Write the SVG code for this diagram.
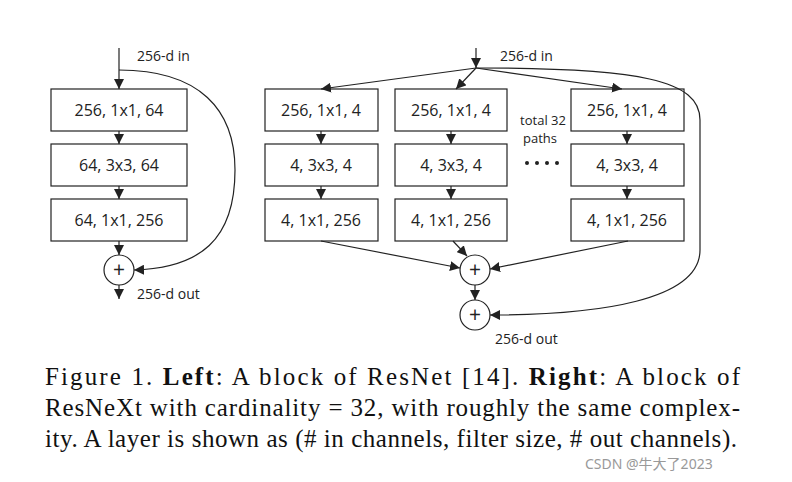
<svg xmlns="http://www.w3.org/2000/svg" width="792" height="482" viewBox="0 0 792 482">
<style>
.b{fill:#fff;stroke:#222;stroke-width:1.2}
.t{font-family:"Open Sans","DejaVu Sans",sans-serif;font-size:16px;fill:#222;text-anchor:middle}
.p{font-family:"Open Sans","DejaVu Sans",sans-serif;font-size:21px;fill:#222;text-anchor:middle}
.s{font-family:"Open Sans","DejaVu Sans",sans-serif;font-size:14px;fill:#222}
.c{font-family:"Liberation Serif",serif;font-size:25px;fill:#111}
.l{fill:none;stroke:#222;stroke-width:1.2}
</style>
<defs><marker id="a" viewBox="0 0 10 10" refX="10" refY="5" markerWidth="10" markerHeight="10" markerUnits="userSpaceOnUse" orient="auto"><path d="M0,0L10,5L0,10z" fill="#222"/></marker></defs>
<rect width="792" height="482" fill="#fff"/>
<g id="left">
<rect class="b" x="51" y="89" width="136" height="42"/><text class="t" x="119" y="116">256, 1x1, 64</text>
<rect class="b" x="51" y="144" width="136" height="42"/><text class="t" x="119" y="171">64, 3x3, 64</text>
<rect class="b" x="51" y="199" width="136" height="42"/><text class="t" x="119" y="226">64, 1x1, 256</text>
<circle class="b" cx="119" cy="270" r="15"/><text class="p" x="119" y="277">+</text>
<text class="s" x="137" y="61">256-d in</text><text class="s" x="137" y="299">256-d out</text>
</g>
<g id="right">
<rect class="b" x="265" y="89" width="113" height="42"/><text class="t" x="321" y="116">256, 1x1, 4</text>
<rect class="b" x="265" y="144" width="113" height="42"/><text class="t" x="321" y="171">4, 3x3, 4</text>
<rect class="b" x="265" y="199" width="113" height="42"/><text class="t" x="321" y="226">4, 1x1, 256</text>
<rect class="b" x="395" y="89" width="112" height="42"/><text class="t" x="451" y="116">256, 1x1, 4</text>
<rect class="b" x="395" y="144" width="112" height="42"/><text class="t" x="451" y="171">4, 3x3, 4</text>
<rect class="b" x="395" y="199" width="112" height="42"/><text class="t" x="451" y="226">4, 1x1, 256</text>
<rect class="b" x="571" y="89" width="113" height="42"/><text class="t" x="627" y="116">256, 1x1, 4</text>
<rect class="b" x="571" y="144" width="113" height="42"/><text class="t" x="627" y="171">4, 3x3, 4</text>
<rect class="b" x="571" y="199" width="113" height="42"/><text class="t" x="627" y="226">4, 1x1, 256</text>
<circle class="b" cx="475" cy="270" r="15"/><text class="p" x="475" y="277">+</text>
<circle class="b" cx="475" cy="315" r="15"/><text class="p" x="475" y="322">+</text>
<text class="s" x="500" y="61">256-d in</text><text class="s" x="495" y="344">256-d out</text>
<text class="s" x="543" y="125" text-anchor="middle" style="font-size:13px">total 32</text>
<text class="s" x="540" y="143" text-anchor="middle" style="font-size:13px">paths</text>
<g fill="#222"><circle cx="527" cy="163" r="2"/><circle cx="537" cy="163" r="2"/><circle cx="547" cy="163" r="2"/><circle cx="557" cy="163" r="2"/></g>
</g>
<g id="connectors" class="l">
<path class="l" d="M119,48V89" marker-end="url(#a)"/>
<path class="l" d="M119,131V144" marker-end="url(#a)"/>
<path class="l" d="M119,186V199" marker-end="url(#a)"/>
<path class="l" d="M119,241V255" marker-end="url(#a)"/>
<path class="l" d="M119,285V299" marker-end="url(#a)"/>
<path class="l" d="M119,70C200,70 235,110 235,170C235,240 200,268 134,270" marker-end="url(#a)"/>
<path class="l" d="M476,48V68" marker-end="url(#a)"/>
<path class="l" d="M476,68L321,89" marker-end="url(#a)"/>
<path class="l" d="M476,68L456,89" marker-end="url(#a)"/>
<path class="l" d="M476,68L622,89" marker-end="url(#a)"/>
<path class="l" d="M321,131V144" marker-end="url(#a)"/>
<path class="l" d="M321,186V199" marker-end="url(#a)"/>
<path class="l" d="M451,131V144" marker-end="url(#a)"/>
<path class="l" d="M451,186V199" marker-end="url(#a)"/>
<path class="l" d="M627,131V144" marker-end="url(#a)"/>
<path class="l" d="M627,186V199" marker-end="url(#a)"/>
<path class="l" d="M321,241L460,268" marker-end="url(#a)"/>
<path class="l" d="M453,241L467,256" marker-end="url(#a)"/>
<path class="l" d="M628,241L490,269" marker-end="url(#a)"/>
<path class="l" d="M475,285V300" marker-end="url(#a)"/>
<path class="l" d="M476,68C640,68 700,80 700,120V250C700,300 600,315 490,315" marker-end="url(#a)"/>
</g>
<g id="caption">
<text class="c" x="45" y="385" textLength="695" lengthAdjust="spacing">Figure 1. <tspan font-weight="bold">Left</tspan>:  A block of ResNet [14].  <tspan font-weight="bold">Right</tspan>:  A block of</text>
<text class="c" x="45" y="416" textLength="695" lengthAdjust="spacing">ResNeXt with cardinality = 32, with roughly the same complex-</text>
<text class="c" x="45" y="447" textLength="692" lengthAdjust="spacing">ity. A layer is shown as (# in channels, filter size, # out channels).</text>
<text x="585" y="469" style="font-family:'Noto Sans','Noto Sans CJK SC',sans-serif;font-size:14px;fill:#999">CSDN @牛大了2023</text>
</g>
</svg>
